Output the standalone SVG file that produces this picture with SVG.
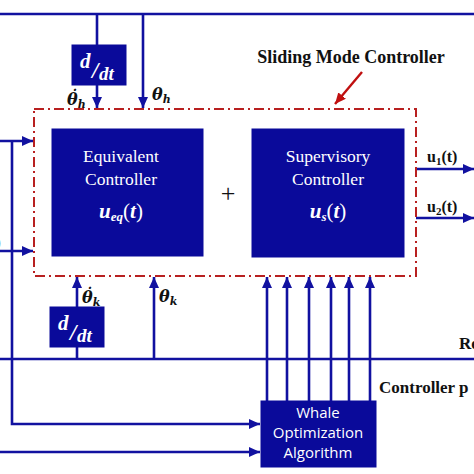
<svg xmlns="http://www.w3.org/2000/svg" width="474" height="474" viewBox="0 0 474 474">
<style>
.ln{fill:none;stroke:#1111a0;stroke-width:2.6}
.box{fill:#0a0a9a;stroke:#0a0a9a}
.wt{fill:#ffffff;font-family:"Liberation Serif",serif;font-size:17.5px;text-anchor:middle}
.math{font-family:"Liberation Serif",serif;font-weight:bold;font-style:italic}
.th{font-family:"DejaVu Serif",serif;font-weight:bold;font-style:italic;fill:#111111;font-size:16px}
.bl{fill:#111111;font-family:"Liberation Serif",serif;font-weight:bold}
.ws{fill:#ffffff;font-family:"Open Sans",sans-serif;font-size:15px;text-anchor:middle}
</style>
<defs>
<marker id="ar" markerUnits="userSpaceOnUse" markerWidth="12" markerHeight="10" refX="11" refY="5" orient="auto">
<path d="M0,0 L11,5 L0,10 Z" fill="#1111a0"/>
</marker>
<marker id="rar" markerUnits="userSpaceOnUse" markerWidth="12" markerHeight="10" refX="11" refY="5" orient="auto">
<path d="M0,0 L11,5 L0,10 Z" fill="#c01010"/>
</marker>
</defs>
<rect width="474" height="474" fill="#ffffff"/>

<g id="connectors">
<path class="ln" d="M0,14 H474"/>
<path class="ln" d="M97,14 V45"/>
<path class="ln" d="M97,85 V108" marker-end="url(#ar)"/>
<path class="ln" d="M143,14 V108" marker-end="url(#ar)"/>
<path class="ln" d="M0,141 H33" marker-end="url(#ar)"/>
<path class="ln" d="M0,251 H33" marker-end="url(#ar)"/>
<path class="ln" d="M12,141 V424 H260" marker-end="url(#ar)"/>
<path class="ln" d="M0,452 H260" marker-end="url(#ar)"/>
<path class="ln" d="M0,359 H474"/>
<path class="ln" d="M77,359 V347"/>
<path class="ln" d="M77,307 V277" marker-end="url(#ar)"/>
<path class="ln" d="M154,359 V277" marker-end="url(#ar)"/>
<path class="ln" d="M267,401 V277" marker-end="url(#ar)"/>
<path class="ln" d="M287,401 V277" marker-end="url(#ar)"/>
<path class="ln" d="M309,401 V277" marker-end="url(#ar)"/>
<path class="ln" d="M331,401 V277" marker-end="url(#ar)"/>
<path class="ln" d="M349,401 V277" marker-end="url(#ar)"/>
<path class="ln" d="M370,401 V277" marker-end="url(#ar)"/>
<path class="ln" d="M416,169 H474" marker-end="url(#ar)"/>
<path class="ln" d="M416,218 H474" marker-end="url(#ar)"/>
<path d="M362,72 L335,104" stroke="#c01010" stroke-width="2.4" fill="none" marker-end="url(#rar)"/>
</g>

<g id="smc">
<rect x="34" y="109" width="382" height="167" fill="none" stroke="#b82020" stroke-width="2" stroke-dasharray="10,4,2,4"/>
<text class="bl" x="351" y="63" font-size="18" text-anchor="middle">Sliding Mode Controller</text>
</g>

<g id="ddt-top">
<rect class="box" x="72" y="45" width="54" height="40"/>
<text class="math" fill="#ffffff" x="80" y="68" font-size="21">d</text>
<text class="math" fill="#ffffff" x="92" y="78" font-size="23">/</text>
<text class="math" fill="#ffffff" x="99" y="80" font-size="19">dt</text>
</g>

<g id="ddt-bottom">
<rect class="box" x="50" y="307" width="54" height="40"/>
<text class="math" fill="#ffffff" x="58" y="330" font-size="21">d</text>
<text class="math" fill="#ffffff" x="70" y="340" font-size="23">/</text>
<text class="math" fill="#ffffff" x="77" y="342" font-size="19">dt</text>
</g>

<g id="labels-theta">
<text class="th" x="67" y="105">θ<tspan dx="-8" dy="-3">˙</tspan><tspan dx="0" dy="6" font-size="11">h</tspan></text>
<text class="th" x="152" y="100">θ<tspan font-size="11" dy="3">h</tspan></text>
<text class="th" x="82" y="303">θ<tspan dx="-8" dy="-3">˙</tspan><tspan dx="0" dy="6" font-size="11">k</tspan></text>
<text class="th" x="159" y="302">θ<tspan font-size="11" dy="3">k</tspan></text>
</g>

<g id="equivalent">
<rect class="box" x="52" y="129" width="151" height="127"/>
<text class="wt" x="121" y="162">Equivalent</text>
<text class="wt" x="121" y="185">Controller</text>
<text class="math" fill="#ffffff" x="121" y="218" font-size="21" text-anchor="middle">u<tspan font-size="13" dy="3">eq</tspan><tspan dy="-3" font-style="normal" font-weight="normal">(</tspan>t<tspan font-style="normal" font-weight="normal">)</tspan></text>
</g>

<text x="228" y="202" font-family="Liberation Serif,serif" font-size="26" fill="#111111" text-anchor="middle">+</text>

<g id="supervisory">
<rect class="box" x="252" y="129" width="152" height="128"/>
<text class="wt" x="328" y="162">Supervisory</text>
<text class="wt" x="328" y="185">Controller</text>
<text class="math" fill="#ffffff" x="328" y="218" font-size="21" text-anchor="middle">u<tspan font-size="13" dy="3">s</tspan><tspan dy="-3" font-style="normal" font-weight="normal">(</tspan>t<tspan font-style="normal" font-weight="normal">)</tspan></text>
</g>

<g id="outputs">
<text class="bl" x="427" y="162" font-size="16">u<tspan font-size="11" dy="3">1</tspan><tspan dy="-3">(t)</tspan></text>
<text class="bl" x="427" y="212" font-size="16">u<tspan font-size="11" dy="3">2</tspan><tspan dy="-3">(t)</tspan></text>
<text class="bl" x="459" y="349" font-size="17">Re</text>
<text class="bl" x="379" y="393" font-size="17">Controller p</text>
<text class="bl" x="-4" y="247" font-size="14">)</text>
</g>

<g id="woa">
<rect class="box" x="261" y="401" width="115" height="66"/>
<text class="ws" x="318" y="418">Whale</text>
<text class="ws" x="318" y="438">Optimization</text>
<text class="ws" x="318" y="458">Algorithm</text>
</g>
</svg>
